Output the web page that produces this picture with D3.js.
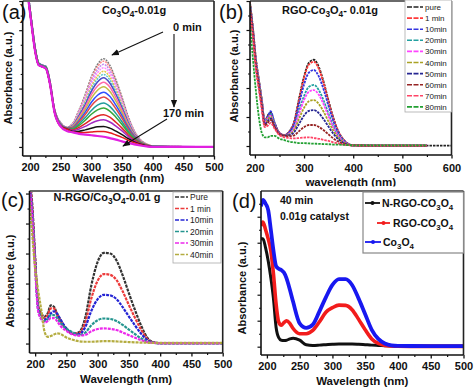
<!DOCTYPE html>
<html>
<head>
<meta charset="utf-8">
<script src="https://cdn.jsdelivr.net/npm/d3@7"></script>
<style>
  body { margin: 0; background: #fff; }
  svg { display: block; }
  text { font-family: "Liberation Sans", Arial, sans-serif; }
</style>
</head>
<body>
<script>
const width = 474, height = 388;

// ---- (a) Co3O4-0.01g, 0..170 min ----
const waveA = [190,196,202,208,214,220,226,232,240,250,260,270,280,290,300,310,320,330,340,350,360,370,380,390,400,430,500];
const absA = [
  [1.3,1.08,0.88,0.69,0.575,0.56,0.55,0.46,0.26,0.165,0.135,0.165,0.255,0.36,0.48,0.565,0.605,0.56,0.46,0.34,0.21,0.11,0.05,0.02,0.008,0.003,0.001],
  [1.3,1.08,0.88,0.69,0.575,0.56,0.55,0.46,0.26,0.165,0.135,0.163,0.249,0.35,0.467,0.549,0.588,0.544,0.447,0.331,0.204,0.107,0.049,0.02,0.008,0.003,0.001],
  [1.3,1.08,0.88,0.69,0.575,0.56,0.55,0.46,0.26,0.165,0.134,0.16,0.243,0.338,0.451,0.529,0.566,0.524,0.431,0.319,0.197,0.104,0.047,0.019,0.007,0.003,0.001],
  [1.3,1.08,0.88,0.69,0.575,0.56,0.55,0.46,0.26,0.164,0.133,0.157,0.235,0.326,0.433,0.508,0.543,0.503,0.413,0.306,0.19,0.1,0.046,0.018,0.007,0.003,0.001],
  [1.3,1.08,0.88,0.69,0.575,0.56,0.55,0.46,0.258,0.163,0.133,0.154,0.228,0.314,0.415,0.486,0.519,0.48,0.395,0.293,0.182,0.096,0.044,0.018,0.007,0.003,0.001],
  [1.3,1.08,0.88,0.69,0.575,0.56,0.55,0.46,0.256,0.162,0.132,0.151,0.221,0.302,0.398,0.466,0.497,0.46,0.378,0.281,0.175,0.092,0.042,0.017,0.006,0.003,0.001],
  [1.3,1.08,0.88,0.69,0.575,0.56,0.55,0.46,0.254,0.16,0.131,0.148,0.214,0.29,0.381,0.445,0.474,0.438,0.361,0.268,0.167,0.089,0.041,0.016,0.006,0.003,0.001],
  [1.3,1.07,0.87,0.68,0.57,0.555,0.545,0.45,0.25,0.158,0.131,0.145,0.204,0.275,0.358,0.417,0.444,0.411,0.338,0.252,0.157,0.084,0.039,0.016,0.006,0.003,0.001],
  [1.3,1.07,0.87,0.68,0.57,0.555,0.545,0.45,0.25,0.156,0.13,0.141,0.194,0.258,0.334,0.388,0.412,0.381,0.314,0.234,0.147,0.079,0.037,0.015,0.005,0.002,0.001],
  [1.3,1.07,0.87,0.68,0.57,0.555,0.545,0.45,0.248,0.155,0.129,0.136,0.182,0.239,0.306,0.354,0.375,0.347,0.286,0.214,0.135,0.073,0.034,0.014,0.005,0.002,0.001],
  [1.3,1.07,0.87,0.68,0.57,0.555,0.545,0.45,0.246,0.153,0.128,0.132,0.172,0.222,0.282,0.324,0.343,0.317,0.262,0.196,0.124,0.067,0.032,0.013,0.004,0.002,0.001],
  [1.3,1.07,0.87,0.68,0.57,0.555,0.545,0.45,0.244,0.151,0.127,0.127,0.159,0.201,0.25,0.286,0.301,0.278,0.23,0.173,0.11,0.061,0.029,0.012,0.004,0.002,0.001],
  [1.3,1.07,0.87,0.68,0.57,0.555,0.545,0.45,0.242,0.149,0.126,0.122,0.148,0.183,0.224,0.254,0.267,0.246,0.204,0.154,0.099,0.055,0.027,0.011,0.003,0.002,0.001],
  [1.28,1.05,0.85,0.66,0.56,0.55,0.535,0.44,0.24,0.146,0.125,0.117,0.134,0.159,0.189,0.212,0.221,0.204,0.169,0.129,0.084,0.048,0.024,0.01,0.002,0.001,0.001],
  [1.28,1.05,0.85,0.66,0.56,0.55,0.535,0.44,0.238,0.144,0.124,0.112,0.123,0.141,0.163,0.18,0.186,0.171,0.143,0.11,0.073,0.042,0.021,0.009,0.002,0.001,0.001],
  [1.28,1.05,0.85,0.66,0.56,0.55,0.535,0.44,0.236,0.142,0.122,0.106,0.108,0.117,0.128,0.138,0.14,0.129,0.108,0.085,0.058,0.035,0.018,0.007,0.001,0.001,0.001],
  [1.28,1.05,0.85,0.66,0.56,0.55,0.535,0.44,0.235,0.14,0.122,0.102,0.098,0.099,0.102,0.106,0.106,0.097,0.082,0.066,0.046,0.029,0.016,0.007,0.001,0.001,0.001],
  [1.28,1.05,0.85,0.66,0.56,0.55,0.535,0.44,0.235,0.14,0.11,0.1,0.09,0.085,0.08,0.075,0.07,0.06,0.05,0.038,0.028,0.018,0.01,0.004,0,0,0]
];
const colorsA = ['#7a7a7a','#ff8a8a','#c48cf0','#ff88ff','#e2c64a','#5cc6cc','#4a4ac8','#ff6aa8','#c2bc44',
                 '#3050ff','#e24848','#229c9c','#3aa83a','#e02626','#a42ac4','#111111','#e41c1c','#e020e0'];

// ---- (b) RGO-Co3O4-0.01g, pure..80 min ----
const waveB = [190,196,202,208,214,220,226,232,240,250,260,270,280,290,300,310,320,330,340,350,360,370,380,390,400,450,500,550,600];
const labelsB = ['pure','1 min','10min','20min','30min','40min','50min','60min','70min','80min'];
const absB = [
  [0.99,0.81,0.6,0.46,0.32,0.17,0.21,0.23,0.16,0.09,0.075,0.1,0.17,0.33,0.48,0.575,0.595,0.545,0.44,0.31,0.19,0.1,0.045,0.015,0.005,0.003,0.002,0.002,0.002],
  [0.99,0.81,0.6,0.45,0.31,0.17,0.2,0.22,0.155,0.09,0.076,0.099,0.166,0.321,0.47,0.562,0.581,0.532,0.43,0.303,0.186,0.098,0.044,0.015,0.004,0.003,0.003,0.003,null],
  [0.98,0.8,0.59,0.45,0.31,0.17,0.2,0.24,0.16,0.088,0.075,0.095,0.154,0.292,0.425,0.507,0.524,0.48,0.388,0.273,0.168,0.089,0.04,0.014,0.004,0.003,0.003,0.003,null],
  [0.98,0.8,0.58,0.44,0.3,0.16,0.19,0.22,0.15,0.085,0.074,0.087,0.132,0.241,0.345,0.409,0.421,0.386,0.312,0.221,0.136,0.073,0.033,0.012,0.004,0.003,0.003,0.003,null],
  [0.97,0.79,0.58,0.44,0.3,0.16,0.19,0.21,0.145,0.085,0.074,0.085,0.125,0.223,0.318,0.375,0.386,0.353,0.286,0.203,0.126,0.068,0.031,0.011,0.004,0.003,0.003,0.003,null],
  [0.97,0.78,0.57,0.43,0.29,0.15,0.18,0.2,0.14,0.083,0.073,0.08,0.11,0.189,0.264,0.309,0.317,0.29,0.235,0.167,0.104,0.057,0.027,0.01,0.004,0.003,0.003,0.003,null],
  [0.96,0.78,0.56,0.42,0.28,0.15,0.17,0.19,0.135,0.082,0.072,0.075,0.096,0.154,0.21,0.243,0.248,0.227,0.184,0.132,0.083,0.046,0.022,0.009,0.004,0.003,0.003,0.003,null],
  [0.95,0.77,0.55,0.41,0.27,0.14,0.16,0.18,0.13,0.08,0.071,0.068,0.074,0.103,0.13,0.145,0.145,0.132,0.109,0.079,0.051,0.03,0.015,0.007,0.004,0.003,0.003,0.003,null],
  [0.93,0.75,0.53,0.39,0.25,0.13,0.14,0.16,0.12,0.075,0.06,0.055,0.052,0.055,0.058,0.06,0.055,0.05,0.042,0.035,0.025,0.017,0.01,0.006,0.004,0.003,0.003,0.003,null],
  [0.85,0.6,0.38,0.2,0.09,0.06,0.06,0.07,0.07,0.05,0.04,0.03,0.025,0.02,0.02,0.018,0.016,0.015,0.013,0.012,0.01,0.009,0.008,0.006,0.005,0.004,0.004,0.004,null]
];
const colorsB = ['#222222','#ff3a3a','#3434e0','#22a0a0','#ff44ff','#aaa224','#262692','#962424','#ff4466','#22a032'];

// ---- (c) N-RGO/Co3O4-0.01 g, pure..40 min ----
const waveC = [191,195,200,205,210,215,220,225,230,235,240,250,260,270,280,290,300,310,320,330,340,350,360,370,380,390,400,430,500];
const labelsC = ['Pure','1 min','10min','20min','30min','40min'];
const absC = [
  [1.1,0.95,0.58,0.25,0.2,0.18,0.2,0.255,0.245,0.2,0.16,0.1,0.065,0.075,0.17,0.39,0.545,0.605,0.6,0.555,0.455,0.335,0.22,0.115,0.035,0.008,0.003,0.002,0.002],
  [1.1,0.93,0.56,0.24,0.19,0.17,0.19,0.235,0.235,0.195,0.155,0.095,0.065,0.069,0.138,0.303,0.419,0.463,0.458,0.424,0.348,0.256,0.169,0.089,0.028,0.007,0.003,0.002,0.002],
  [1.08,0.9,0.55,0.23,0.18,0.16,0.17,0.2,0.215,0.2,0.165,0.1,0.065,0.063,0.107,0.219,0.296,0.325,0.321,0.297,0.243,0.18,0.119,0.063,0.021,0.006,0.003,0.002,0.002],
  [1.05,0.88,0.52,0.22,0.17,0.15,0.16,0.19,0.19,0.17,0.14,0.1,0.075,0.056,0.072,0.122,0.156,0.167,0.164,0.151,0.124,0.093,0.062,0.034,0.012,0.004,0.002,0.002,0.002],
  [1.05,0.87,0.5,0.21,0.16,0.14,0.15,0.17,0.17,0.15,0.12,0.085,0.06,0.053,0.057,0.082,0.097,0.101,0.098,0.09,0.074,0.056,0.038,0.022,0.009,0.004,0.002,0.002,0.002],
  [0.95,0.75,0.5,0.35,0.22,0.08,0.045,0.05,0.06,0.068,0.065,0.04,0.025,0.015,0.012,0.012,0.014,0.016,0.016,0.014,0.012,0.01,0.008,0.006,0.005,0.004,0.004,0.004,0.004]
];
const colorsC = ['#333333','#ec3a3a','#2424d4','#24958f','#ec28ec','#b4ac40'];

// ---- (d) 40 min, 0.01g catalyst ----
const waveD = [191,194,198,202,206,210,214,218,222,226,230,235,240,250,260,270,280,290,300,310,320,330,340,350,360,370,380,390,400,450,500];
const nrgoD = [0.83,0.83,0.76,0.66,0.53,0.37,0.15,0.07,0.05,0.048,0.05,0.06,0.065,0.05,0.015,0.01,0.012,0.015,0.018,0.02,0.02,0.02,0.018,0.015,0.012,0.01,0.008,0.006,0.005,0.005,0.005];
const rgoD = [0.93,0.96,0.9,0.83,0.74,0.56,0.33,0.19,0.165,0.185,0.2,0.18,0.14,0.1,0.1,0.125,0.19,0.265,0.3,0.32,0.318,0.285,0.21,0.13,0.06,0.025,0.01,0.005,0.003,0.002,0.002];
const coD = [1.08,1.13,1.1,1.05,0.9,0.74,0.62,0.6,0.59,0.57,0.526,0.44,0.345,0.18,0.145,0.17,0.27,0.38,0.475,0.52,0.52,0.475,0.37,0.25,0.13,0.06,0.025,0.01,0.006,0.005,0.005];

const svg = d3.select('body').append('svg').attr('width', width).attr('height', height);
svg.append('rect').attr('width', width).attr('height', height).attr('fill', '#fff');
const defs = svg.append('defs');
defs.append('marker').attr('id', 'arrow').attr('viewBox', '0 0 10 10')
  .attr('refX', 9).attr('refY', 5).attr('markerWidth', 7).attr('markerHeight', 7)
  .attr('orient', 'auto-start-reverse')
  .append('path').attr('d', 'M0,1L10,5L0,9Z').attr('fill', '#111');

// text with {subscripts}
function rich(t, str, fs) {
  let down = false;
  str.split(/(\{[^}]*\})/).filter(p => p).forEach(p => {
    const sub = p[0] === '{';
    const ts = t.append('tspan').text(sub ? p.slice(1, -1) : p);
    if (sub) ts.attr('font-size', fs * 0.75).attr('dy', down ? 0 : fs * 0.3);
    else ts.attr('dy', down ? -fs * 0.3 : 0);
    down = sub;
  });
  return t;
}

let clipN = 0;
function panel(p) {
  const x = d3.scaleLinear().domain(p.xDom).range([p.left, p.right]);
  const y = d3.scaleLinear().domain(p.yDom).range([p.bottom, p.top]);
  const g = svg.append('g');
  const id = 'clip' + (clipN++);
  defs.append('clipPath').attr('id', id).append('rect')
    .attr('x', p.left).attr('y', p.top).attr('width', p.right - p.left).attr('height', p.bottom - p.top);

  const line = d3.line().defined(d => d[1] != null)
    .x(d => x(d[0])).y(d => y(d[1])).curve(d3.curveMonotoneX);
  const plot = g.append('g').attr('clip-path', `url(#${id})`);
  p.series.forEach(s => {
    plot.append('path').datum(p.wave.map((w, i) => [w, s.values[i]]))
      .attr('fill', 'none').attr('stroke', s.color).attr('stroke-width', s.width)
      .attr('stroke-dasharray', s.dash || null)
      .attr('stroke-linejoin', 'round').attr('d', line);
  });

  // x axis: labelled major ticks + minor ticks
  g.append('g').attr('transform', `translate(0,${p.bottom})`)
    .call(d3.axisBottom(x).tickValues(p.xMinor).tickSize(2).tickFormat(''))
    .call(a => a.select('.domain').remove())
    .call(a => a.selectAll('line').attr('stroke', '#111').attr('stroke-width', 1.2));
  g.append('g').attr('transform', `translate(0,${p.bottom})`)
    .call(d3.axisBottom(x).tickValues(p.xTicks).tickSize(3.5).tickPadding(p.pad))
    .call(a => a.select('.domain').remove())
    .call(a => a.selectAll('line').attr('stroke', '#111').attr('stroke-width', 1.3))
    .call(a => a.selectAll('text').attr('font-size', 11).attr('font-weight', 'bold')
      .attr('fill', '#111').attr('font-family', '"Liberation Sans", Arial, sans-serif'));

  // y axis: unlabelled ticks
  const yMaj = d3.range(0, p.yDom[1] + 1e-6, 0.2);
  const yMin = d3.range(0.1, p.yDom[1], 0.2);
  g.append('g').attr('transform', `translate(${p.left},0)`)
    .call(d3.axisLeft(y).tickValues(yMin).tickSize(2).tickFormat(''))
    .call(a => a.select('.domain').remove())
    .call(a => a.selectAll('line').attr('stroke', '#111').attr('stroke-width', 1.1));
  g.append('g').attr('transform', `translate(${p.left},0)`)
    .call(d3.axisLeft(y).tickValues(yMaj).tickSize(3.5).tickFormat(''))
    .call(a => a.select('.domain').remove())
    .call(a => a.selectAll('line').attr('stroke', '#111').attr('stroke-width', 1.2));

  // frame
  g.append('line').attr('x1', p.left).attr('x2', p.right).attr('y1', p.top).attr('y2', p.top)
    .attr('stroke', '#6a6a6a').attr('stroke-width', 2.2);
  g.append('line').attr('x1', p.right).attr('x2', p.right).attr('y1', p.top).attr('y2', p.bottom)
    .attr('stroke', '#222').attr('stroke-width', 1.6);
  g.append('line').attr('x1', p.left).attr('x2', p.left).attr('y1', p.top).attr('y2', p.bottom)
    .attr('stroke', '#111').attr('stroke-width', 1.6);
  g.append('line').attr('x1', p.left).attr('x2', p.right).attr('y1', p.bottom).attr('y2', p.bottom)
    .attr('stroke', '#111').attr('stroke-width', 1.6);

  // titles
  g.append('text').attr('x', (p.left + p.right) / 2).attr('y', p.xTitleY)
    .attr('text-anchor', 'middle').attr('font-size', 11.5).attr('font-weight', 'bold').attr('fill', '#111')
    .text(p.xTitle);
  g.append('text').attr('transform', `translate(${p.yTitleX},${p.yTitleY}) rotate(-90)`)
    .attr('text-anchor', 'middle').attr('font-size', 11).attr('font-weight', 'bold').attr('fill', '#111')
    .text('Absorbance (a.u.)');
  g.append('text').attr('x', p.letterX).attr('y', p.letterY)
    .attr('font-family', '"Liberation Serif", "Times New Roman", serif').attr('font-size', 20).attr('fill', '#111')
    .text(p.letter);
  return {g, x, y};
}

const ticks50 = [200, 250, 300, 350, 400, 450, 500];
const minor50 = [225, 275, 325, 375, 425, 475];

// ---------------- (a) ----------------
const pa = panel({
  left: 22.7, right: 214, top: 1, bottom: 156, xDom: [188, 500], yDom: [-0.062, 1.0],
  xTicks: ticks50, xMinor: minor50, pad: 3.5, wave: waveA,
  series: absA.map((v, i) => ({values: v, color: colorsA[i], width: i === 17 ? 2.2 : 1.5, dash: i < 6 ? '2,1' : null})),
  xTitle: 'Wavelength (nm)', xTitleY: 182, yTitleX: 12, yTitleY: 78,
  letter: '(a)', letterX: 2, letterY: 19
});
rich(pa.g.append('text').attr('x', 134).attr('y', 14).attr('text-anchor', 'middle')
  .attr('font-size', 11).attr('font-weight', 'bold').attr('fill', '#111'), 'Co{3}O{4}-0.01g', 11);
pa.g.append('text').attr('x', 173).attr('y', 31).attr('font-size', 11).attr('font-weight', 'bold').attr('fill', '#111').text('0 min');
pa.g.append('text').attr('x', 163).attr('y', 117).attr('font-size', 11).attr('font-weight', 'bold').attr('fill', '#111').text('170 min');
[[163, 32, 112, 55], [174, 34, 174, 107], [167, 119, 123, 146]].forEach(a => {
  pa.g.append('line').attr('x1', a[0]).attr('y1', a[1]).attr('x2', a[2]).attr('y2', a[3])
    .attr('stroke', '#111').attr('stroke-width', 1.1).attr('marker-end', 'url(#arrow)');
});

// ---------------- (b) ----------------
const pb = panel({
  left: 250, right: 451.5, top: 1, bottom: 155, xDom: [190, 600], yDom: [-0.062, 1.0],
  xTicks: [200, 300, 400, 500, 600], xMinor: [250, 350, 450, 550], pad: 6, wave: waveB,
  series: absB.map((v, i) => ({values: v, color: colorsB[i], width: 1.8, dash: '2.5,1'})),
  xTitle: 'wavelength (nm)', xTitleY: 186, yTitleX: 238, yTitleY: 76,
  letter: '(b)', letterX: 219, letterY: 19
});
rich(pb.g.append('text').attr('x', 330).attr('y', 14).attr('text-anchor', 'middle')
  .attr('font-size', 11).attr('font-weight', 'bold').attr('fill', '#111'), 'RGO-Co{3}O{4}- 0.01g', 11);
const lgB = pb.g.append('g');
lgB.append('rect').attr('x', 405).attr('y', 0).attr('width', 46.5).attr('height', 112)
  .attr('fill', '#fff').attr('stroke', '#aaa').attr('stroke-width', 0.8);
labelsB.forEach((t, i) => {
  const yy = 7 + i * 11.1;
  lgB.append('line').attr('x1', 407).attr('x2', 423).attr('y1', yy).attr('y2', yy)
    .attr('stroke', colorsB[i]).attr('stroke-width', 1.6).attr('stroke-dasharray', '5,1.5');
  lgB.append('text').attr('x', 425).attr('y', yy + 3).attr('font-size', 8).attr('fill', '#222').text(t);
});

// white cover below (b): panel (d) overlaps the bottom of its title
svg.append('rect').attr('x', 241).attr('y', 186.5).attr('width', 233).attr('height', 202).attr('fill', '#fff');

// ---------------- (c) ----------------
const pc = panel({
  left: 29.5, right: 222.7, top: 191, bottom: 353, xDom: [191, 500], yDom: [-0.063, 1.017],
  xTicks: ticks50, xMinor: minor50, pad: 3.5, wave: waveC,
  series: absC.map((v, i) => ({values: v, color: colorsC[i], width: 2.2, dash: '3,1'})),
  xTitle: 'Wavelength (nm)', xTitleY: 383, yTitleX: 14, yTitleY: 281,
  letter: '(c)', letterX: 1, letterY: 207
});
rich(pc.g.append('text').attr('x', 107).attr('y', 201).attr('text-anchor', 'middle')
  .attr('font-size', 11).attr('font-weight', 'bold').attr('fill', '#111'), 'N-RGO/Co{3}O{4}-0.01 g', 11);
const lgC = pc.g.append('g');
lgC.append('rect').attr('x', 173).attr('y', 192).attr('width', 48).attr('height', 71)
  .attr('fill', '#fff').attr('stroke', '#aaa').attr('stroke-width', 0.8);
labelsC.forEach((t, i) => {
  const yy = 197 + i * 11.5;
  lgC.append('line').attr('x1', 175).attr('x2', 188).attr('y1', yy).attr('y2', yy)
    .attr('stroke', colorsC[i]).attr('stroke-width', 1.6).attr('stroke-dasharray', '4,1.5');
  lgC.append('text').attr('x', 190).attr('y', yy + 3).attr('font-size', 8.5).attr('fill', '#222').text(t);
});

// ---------------- (d) ----------------
const seriesD = [
  {values: nrgoD, color: '#111111', width: 3, label: 'N-RGO-CO{3}O{4}'},
  {values: rgoD, color: '#f21c1c', width: 3.6, label: 'RGO-CO{3}O{4}'},
  {values: coD, color: '#1818f0', width: 3.8, label: 'Co{3}O{4}'}
];
const pd = panel({
  left: 261, right: 463.5, top: 191, bottom: 355, xDom: [191, 500], yDom: [-0.064, 1.198],
  xTicks: ticks50, xMinor: minor50, pad: 3.5, wave: waveD,
  series: seriesD,
  xTitle: 'Wavelength (nm)', xTitleY: 385, yTitleX: 246, yTitleY: 288,
  letter: '(d)', letterX: 232, letterY: 208
});
pd.g.append('text').attr('x', 280).attr('y', 204).attr('font-size', 10.5).attr('font-weight', 'bold').attr('fill', '#111').text('40 min');
pd.g.append('text').attr('x', 280).attr('y', 220).attr('font-size', 10.5).attr('font-weight', 'bold').attr('fill', '#111').text('0.01g catalyst');
const lgD = pd.g.append('g');
lgD.append('rect').attr('x', 363).attr('y', 192).attr('width', 100.5).attr('height', 61)
  .attr('fill', '#fff').attr('stroke', '#888').attr('stroke-width', 1.2);
[[365, 380, 382, 203], [377, 390, 393, 223], [365, 381, 383, 242]].forEach((r, i) => {
  const s = seriesD[i];
  lgD.append('line').attr('x1', r[0]).attr('x2', r[1]).attr('y1', r[3]).attr('y2', r[3])
    .attr('stroke', s.color).attr('stroke-width', 1.8);
  lgD.append('circle').attr('cx', (r[0] + r[1]) / 2).attr('cy', r[3]).attr('r', 2).attr('fill', s.color);
  rich(lgD.append('text').attr('x', r[2]).attr('y', r[3] + 4).attr('font-size', 10.5)
    .attr('font-weight', 'bold').attr('fill', '#111'), s.label, 10.5);
});
</script>
</body>
</html>
